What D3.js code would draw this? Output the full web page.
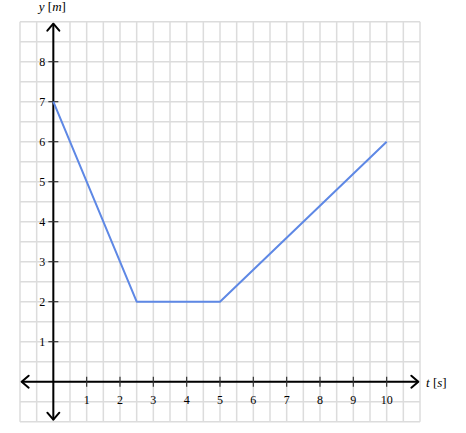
<!DOCTYPE html>
<html>
<head>
<meta charset="utf-8">
<script src="https://cdn.jsdelivr.net/npm/d3@7"></script>
<style>
  body { margin: 0; background: #fff; }
  svg { display: block; }
  svg text { font-family: 'Liberation Serif', 'Times New Roman', 'DejaVu Serif', serif; }
</style>
</head>
<body>
<div id="chart"></div>
<script>
// Data
const tValues = [0, 2.5, 5, 10];
const yValues = [7, 2, 2, 6];
const xTicks = [1, 2, 3, 4, 5, 6, 7, 8, 9, 10];
const yTicks = [1, 2, 3, 4, 5, 6, 7, 8];

const width = 466;
const height = 433;

const svg = d3.select('#chart')
  .append('svg')
  .attr('width', width)
  .attr('height', height);

// Scales: grid runs from -1 to 11 in t, -1 to 9 in y
const x = d3.scaleLinear().domain([-1, 11]).range([20, 420]);
const y = d3.scaleLinear().domain([-1, 9]).range([421.7, 21.7]);

// Grid, every half unit
const gridX = d3.range(-1, 11.01, 0.5);
const gridY = d3.range(-1, 9.01, 0.5);

svg.append('g')
  .selectAll('line')
  .data(gridX)
  .enter()
  .append('line')
  .attr('x1', d => x(d))
  .attr('x2', d => x(d))
  .attr('y1', y(-1))
  .attr('y2', y(9))
  .attr('stroke', '#dcdcdc')
  .attr('stroke-width', 1.5);

svg.append('g')
  .selectAll('line')
  .data(gridY)
  .enter()
  .append('line')
  .attr('x1', x(-1))
  .attr('x2', x(11))
  .attr('y1', d => y(d))
  .attr('y2', d => y(d))
  .attr('stroke', '#dcdcdc')
  .attr('stroke-width', 1.5);

// Axes
const axisColor = '#000';
svg.append('line')
  .attr('x1', x(-0.95)).attr('x2', x(10.95))
  .attr('y1', y(0)).attr('y2', y(0))
  .attr('stroke', axisColor).attr('stroke-width', 2);

svg.append('line')
  .attr('x1', x(0)).attr('x2', x(0))
  .attr('y1', y(-0.95)).attr('y2', y(8.95))
  .attr('stroke', axisColor).attr('stroke-width', 2);

// Arrow heads
function arrow(px, py, angle) {
  svg.append('path')
    .attr('d', 'M -7 -6 L 0 0 L -7 6')
    .attr('transform', `translate(${px},${py}) rotate(${angle})`)
    .attr('fill', 'none')
    .attr('stroke', axisColor)
    .attr('stroke-width', 2)
    .attr('stroke-linecap', 'round')
    .attr('stroke-linejoin', 'round');
}
arrow(x(10.95), y(0), 0);
arrow(x(-0.95), y(0), 180);
arrow(x(0), y(8.95), -90);
arrow(x(0), y(-0.95), 90);

// Ticks
svg.append('g')
  .selectAll('line')
  .data(xTicks)
  .enter()
  .append('line')
  .attr('x1', d => x(d)).attr('x2', d => x(d))
  .attr('y1', y(0) - 5).attr('y2', y(0) + 5)
  .attr('stroke', '#333').attr('stroke-width', 1.2);

svg.append('g')
  .selectAll('line')
  .data(yTicks)
  .enter()
  .append('line')
  .attr('x1', x(0) - 5).attr('x2', x(0) + 5)
  .attr('y1', d => y(d)).attr('y2', d => y(d))
  .attr('stroke', '#333').attr('stroke-width', 1.2);

// Tick labels
svg.append('g')
  .selectAll('text')
  .data(xTicks)
  .enter()
  .append('text')
  .attr('x', d => x(d))
  .attr('y', y(0) + 22)
  .attr('text-anchor', 'middle')
  .style('font-size', '12px')
  .attr('fill', '#000')
  .text(d => d);

svg.append('g')
  .selectAll('text')
  .data(yTicks)
  .enter()
  .append('text')
  .attr('x', x(0) - 8)
  .attr('y', d => y(d) + 4)
  .attr('text-anchor', 'end')
  .style('font-size', '12px')
  .attr('fill', '#000')
  .text(d => d);

// Axis titles
const yTitle = svg.append('text')
  .attr('x', x(0) - 1)
  .attr('y', 11)
  .attr('text-anchor', 'middle')
  .style('font-size', '13px')
  .attr('fill', '#000');
yTitle.append('tspan').style('font-style', 'italic').text('y');
yTitle.append('tspan').text(' [');
yTitle.append('tspan').style('font-style', 'italic').text('m');
yTitle.append('tspan').text(']');

const tTitle = svg.append('text')
  .attr('x', x(11) + 6)
  .attr('y', y(0) + 5)
  .attr('text-anchor', 'start')
  .style('font-size', '13px')
  .attr('fill', '#000');
tTitle.append('tspan').style('font-style', 'italic').text('t');
tTitle.append('tspan').text(' [');
tTitle.append('tspan').style('font-style', 'italic').text('s');
tTitle.append('tspan').text(']');

// Data line
const points = tValues.map((t, i) => ({ t: t, y: yValues[i] }));
const line = d3.line()
  .x(d => x(d.t))
  .y(d => y(d.y));

svg.append('path')
  .datum(points)
  .attr('d', line)
  .attr('fill', 'none')
  .attr('stroke', '#5e88e5')
  .attr('stroke-width', 2)
  .attr('stroke-linejoin', 'round');
</script>
</body>
</html>
